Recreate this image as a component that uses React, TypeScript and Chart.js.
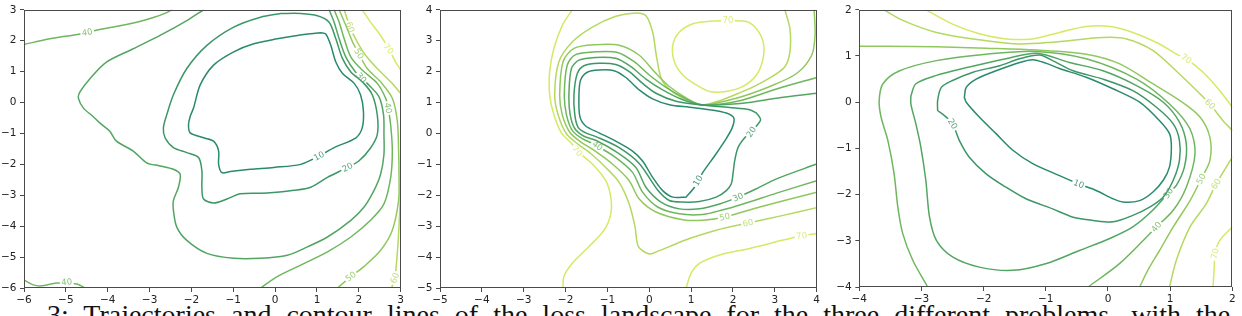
import React, { useEffect, useRef } from "react";
import { Chart, registerables } from "chart.js";

Chart.register(...registerables);

type Pt = [number, number];
type Lab = { t: string; x: number; y: number; r: number; lv: number };

// ---------- contour levels ----------
const levels = [10, 20, 30, 40, 50, 60, 70];
const levelColors = ["#2a8a6d", "#3c9767", "#53a662", "#6fb75e", "#91c85e", "#b4d960", "#d6e964"];

// ---------- panel 1 (x -6..3, y -6..3) ----------
const p1_10: Pt[] = [[1.09,2.26],[1.21,2.22],[1.33,1.85],[1.45,1.31],[1.61,0.94],[1.89,0.62],[2.04,0.25],[2.11,-0.29],[2.08,-0.82],[1.93,-1.14],[1.41,-1.46],[1.05,-1.73],[0.61,-2.0],[-0.03,-2.10],[-0.59,-2.16],[-1.07,-2.23],[-1.27,-2.27],[-1.35,-2.0],[-1.35,-1.57],[-1.47,-1.25],[-1.71,-1.14],[-2.03,-0.98],[-2.07,-0.72],[-2.03,-0.45],[-1.95,-0.18],[-1.79,0.57],[-1.47,1.21],[-0.99,1.64],[-0.51,1.90],[0.05,2.06],[0.53,2.17],[1.09,2.26]];
const p1_20: Pt[] = [[0.13,2.88],[0.61,2.88],[1.01,2.81],[1.29,2.60],[1.45,2.06],[1.61,1.42],[1.81,0.99],[2.12,0.62],[2.32,0.25],[2.44,-0.40],[2.44,-1.04],[2.28,-1.47],[2.0,-1.89],[1.73,-2.10],[1.25,-2.42],[0.85,-2.74],[0.45,-2.84],[-0.19,-2.93],[-0.83,-2.95],[-1.15,-3.12],[-1.47,-3.25],[-1.71,-3.12],[-1.75,-2.75],[-1.75,-2.21],[-1.83,-1.78],[-2.11,-1.62],[-2.43,-1.46],[-2.63,-1.14],[-2.67,-0.82],[-2.59,-0.40],[-2.43,0.25],[-2.11,1.10],[-1.63,1.85],[-0.99,2.44],[-0.35,2.76],[0.13,2.88]];
const p1_30: Pt[] = [[-1.71,3.0],[-2.11,2.65],[-2.75,2.17],[-3.39,1.74],[-4.03,1.31],[-4.42,0.78],[-4.66,0.35],[-4.70,0.14],[-4.58,-0.18],[-4.35,-0.45],[-4.19,-0.66],[-3.95,-0.93],[-3.79,-1.25],[-3.39,-1.57],[-3.07,-1.95],[-2.75,-2.05],[-2.43,-2.16],[-2.27,-2.32],[-2.31,-2.74],[-2.43,-3.17],[-2.43,-3.49],[-2.35,-4.03],[-2.11,-4.46],[-1.63,-4.88],[-0.99,-5.04],[-0.35,-5.04],[0.29,-4.94],[0.77,-4.67],[1.25,-4.35],[1.81,-3.81],[2.12,-3.39],[2.36,-2.85],[2.52,-2.32],[2.60,-1.68],[2.60,-1.04],[2.59,-0.40],[2.48,0.19],[2.20,0.62],[1.92,0.99],[1.69,1.47],[1.53,2.06],[1.41,2.60],[1.29,3.0]];
const p1_40a: Pt[] = [[-6.0,1.88],[-5.38,2.06],[-4.66,2.22],[-4.19,2.36],[-3.39,2.57],[-2.91,2.75],[-2.59,2.91],[-2.47,3.0]];
const p1_40b: Pt[] = [[-6.0,-5.74],[-5.78,-5.90],[-5.58,-5.93],[-5.22,-5.84],[-4.74,-5.87],[-4.54,-6.0]];
const p1_40c: Pt[] = [[1.41,3.0],[1.53,2.60],[1.65,2.06],[1.81,1.47],[2.08,1.05],[2.44,0.62],[2.64,0.14],[2.70,-0.18],[2.76,-0.72],[2.80,-1.57],[2.76,-2.43],[2.60,-3.28],[2.28,-3.81],[1.81,-4.35],[1.25,-4.83],[0.61,-5.26],[0.05,-5.63],[-0.35,-6.0]];
const p1_50: Pt[] = [[1.53,3.0],[1.69,2.49],[1.85,1.96],[2.0,1.58],[2.20,1.10],[2.52,0.67],[2.80,0.14],[2.92,-0.61],[2.95,-1.57],[2.96,-2.43],[2.95,-3.17],[2.80,-4.13],[2.52,-4.78],[2.12,-5.31],[1.81,-5.63],[1.49,-6.0]];
const p1_60a: Pt[] = [[1.65,3.0],[1.79,2.44],[1.96,1.96],[2.16,1.53],[2.44,1.10],[2.76,0.67],[3.0,0.30]];
const p1_60b: Pt[] = [[3.0,-2.75],[2.97,-3.71],[2.93,-4.67],[2.86,-5.68],[2.78,-6.0]];
const p1_70: Pt[] = [[2.08,3.0],[2.28,2.60],[2.52,2.17],[2.71,1.74],[2.88,1.31],[3.0,1.05]];
const p1Labels: Lab[] = [
  { t: "40", x: -4.49, y: 2.27, r: -9, lv: 40 },
  { t: "40", x: -4.98, y: -5.81, r: -5, lv: 40 },
  { t: "10", x: 1.05, y: -1.73, r: -28, lv: 10 },
  { t: "20", x: 1.73, y: -2.10, r: -28, lv: 20 },
  { t: "30", x: 2.06, y: 0.80, r: 50, lv: 30 },
  { t: "40", x: 2.70, y: -0.18, r: 80, lv: 40 },
  { t: "50", x: 2.0, y: 1.58, r: 58, lv: 50 },
  { t: "60", x: 1.79, y: 2.44, r: 70, lv: 60 },
  { t: "70", x: 2.71, y: 1.74, r: 52, lv: 70 },
  { t: "50", x: 1.81, y: -5.63, r: -38, lv: 50 },
  { t: "60", x: 2.86, y: -5.68, r: -70, lv: 60 },
];

// ---------- panel 2 (x -5..4, y -5..4) ----------
const p2_10: Pt[] = [[0.88,-2.06],[0.56,-2.06],[0.32,-1.85],[0.08,-1.42],[-0.16,-0.89],[-0.40,-0.57],[-0.80,-0.25],[-1.20,0.02],[-1.52,0.24],[-1.66,0.56],[-1.68,1.25],[-1.64,1.73],[-1.48,1.98],[-1.20,2.05],[-0.84,2.03],[-0.56,1.81],[-0.24,1.41],[0.08,1.12],[0.48,0.93],[0.96,0.85],[1.44,0.77],[1.84,0.66],[2.02,0.50],[1.98,0.18],[1.80,-0.25],[1.56,-0.73],[1.28,-1.26],[1.08,-1.74],[0.88,-2.06]];
const p2_20: Pt[] = [[2.56,0.66],[2.66,0.45],[2.56,0.24],[2.44,0.05],[2.28,-0.14],[2.12,-0.46],[2.04,-0.89],[2.0,-1.31],[1.96,-1.63],[1.84,-1.85],[1.60,-2.06],[1.20,-2.20],[0.80,-2.22],[0.48,-2.17],[0.20,-1.83],[-0.24,-0.97],[-0.72,-0.46],[-1.26,-0.11],[-1.52,0.02],[-1.70,0.20],[-1.78,0.61],[-1.80,1.25],[-1.72,1.94],[-1.56,2.19],[-1.20,2.27],[-0.80,2.23],[-0.48,2.0],[-0.16,1.62],[0.16,1.30],[0.64,1.04],[1.20,0.93],[1.92,0.84],[2.40,0.77],[2.56,0.66]];
const p2_30: Pt[] = [[4.0,1.30],[3.04,1.14],[2.24,0.98],[1.28,0.93],[0.80,1.09],[0.32,1.41],[-0.08,1.76],[-0.44,2.16],[-0.80,2.43],[-1.28,2.46],[-1.68,2.37],[-1.86,2.10],[-1.92,1.25],[-1.89,0.61],[-1.78,0.16],[-1.56,-0.09],[-1.28,-0.22],[-0.76,-0.62],[-0.32,-1.10],[-0.08,-1.74],[0.28,-2.22],[0.72,-2.44],[1.20,-2.44],[1.68,-2.28],[2.12,-2.06],[2.56,-1.79],[3.04,-1.47],[4.0,-0.99]];
const p2_40: Pt[] = [[4.0,1.81],[3.04,1.44],[2.16,1.06],[1.28,0.92],[0.88,1.12],[0.40,1.49],[0,1.89],[-0.36,2.32],[-0.76,2.62],[-1.28,2.64],[-1.76,2.55],[-1.96,2.21],[-2.03,1.25],[-1.98,0.61],[-1.84,0.10],[-1.60,-0.17],[-1.32,-0.35],[-0.80,-0.78],[-0.40,-1.26],[-0.16,-1.90],[0.20,-2.38],[0.72,-2.60],[1.28,-2.62],[1.76,-2.47],[2.24,-2.28],[3.04,-1.93],[4.0,-1.53]];
const p2_50: Pt[] = [[3.94,4.0],[3.96,3.17],[3.88,2.53],[3.52,1.94],[2.88,1.52],[2.08,1.14],[1.28,0.92],[0.92,1.12],[0.48,1.52],[0.12,2.0],[-0.24,2.53],[-0.72,2.85],[-1.28,2.87],[-1.80,2.75],[-2.06,2.32],[-2.14,1.25],[-2.08,0.61],[-1.90,0.04],[-1.64,-0.27],[-1.36,-0.51],[-0.88,-0.99],[-0.48,-1.53],[-0.24,-2.12],[0.16,-2.54],[0.80,-2.79],[1.28,-2.81],[1.80,-2.70],[2.64,-2.38],[4.0,-1.90]];
const p2_60: Pt[] = [[3.24,4.0],[3.36,3.39],[3.36,2.64],[3.24,2.16],[2.88,1.80],[2.24,1.36],[1.28,0.92],[0.72,1.20],[0.32,1.68],[0.18,2.43],[0.08,3.28],[-0.08,3.81],[-0.32,3.90],[-0.80,3.79],[-1.36,3.44],[-1.84,2.96],[-2.16,2.32],[-2.26,1.25],[-2.18,0.61],[-1.98,-0.01],[-1.68,-0.37],[-1.40,-0.65],[-1.04,-1.10],[-0.72,-1.58],[-0.48,-2.28],[-0.34,-3.02],[-0.26,-3.66],[0,-3.90],[0.24,-3.79],[0.48,-3.66],[0.96,-3.40],[1.60,-3.13],[2.36,-2.90],[3.20,-2.65],[4.0,-2.40]];
const p2_70a: Pt[] = [[-1.84,4.0],[-2.08,3.49],[-2.28,2.75],[-2.38,2.0],[-2.38,1.25],[-2.28,0.61],[-2.10,0.02],[-1.84,-0.35],[-1.72,-0.57],[-1.36,-0.99],[-1.04,-1.53],[-0.92,-2.06],[-0.92,-2.60],[-1.08,-3.13],[-1.44,-3.66],[-1.84,-4.20],[-2.04,-4.63],[-2.06,-5.0]];
const p2_70b: Pt[] = [[1.88,3.65],[2.32,3.62],[2.56,3.39],[2.72,2.96],[2.72,2.43],[2.56,1.89],[2.24,1.52],[1.84,1.36],[1.44,1.36],[1.12,1.57],[0.80,1.89],[0.60,2.32],[0.56,2.85],[0.72,3.28],[1.04,3.55],[1.44,3.63],[1.88,3.65]];
const p2_70c: Pt[] = [[0.88,-5.0],[1.0,-4.52],[1.20,-4.20],[1.68,-3.93],[2.40,-3.72],[3.20,-3.45],[3.64,-3.31],[4.0,-3.24]];
const p2Labels: Lab[] = [
  { t: "10", x: 1.16, y: -1.53, r: -60, lv: 10 },
  { t: "20", x: 2.44, y: 0.05, r: -55, lv: 20 },
  { t: "30", x: 2.12, y: -2.06, r: -22, lv: 30 },
  { t: "40", x: -1.24, y: -0.40, r: 35, lv: 40 },
  { t: "50", x: 1.80, y: -2.70, r: -12, lv: 50 },
  { t: "60", x: 2.36, y: -2.90, r: -12, lv: 60 },
  { t: "70", x: 1.88, y: 3.65, r: 0, lv: 70 },
  { t: "70", x: -1.72, y: -0.57, r: 52, lv: 70 },
  { t: "70", x: 3.64, y: -3.31, r: -6, lv: 70 },
];

// ---------- panel 3 (x -4..2, y -4..2) ----------
const p3_10: Pt[] = [[-2.31,0.11],[-2.28,0.32],[-2.12,0.50],[-1.80,0.68],[-1.42,0.86],[-1.21,0.92],[-0.99,0.84],[-0.78,0.73],[-0.35,0.54],[0.08,0.29],[0.51,0],[0.83,-0.40],[0.99,-0.68],[1.02,-0.97],[0.99,-1.40],[0.89,-1.69],[0.72,-1.95],[0.51,-2.13],[0.24,-2.16],[0.08,-2.09],[-0.19,-1.91],[-0.47,-1.77],[-0.78,-1.59],[-1.21,-1.33],[-1.53,-1.04],[-1.80,-0.68],[-2.07,-0.32],[-2.28,0],[-2.31,0.11]];
const p3_20: Pt[] = [[-2.74,-0.18],[-2.74,0.04],[-2.68,0.32],[-2.50,0.47],[-2.17,0.65],[-1.74,0.79],[-1.42,0.94],[-1.10,1.02],[-0.89,0.90],[-0.56,0.68],[-0.08,0.50],[0.40,0.25],[0.78,-0.11],[1.05,-0.47],[1.15,-0.83],[1.15,-1.26],[1.05,-1.69],[0.89,-2.05],[0.67,-2.27],[0.40,-2.45],[0.08,-2.59],[-0.24,-2.56],[-0.56,-2.49],[-0.89,-2.31],[-1.32,-2.09],[-1.64,-1.84],[-1.96,-1.55],[-2.23,-1.19],[-2.39,-0.83],[-2.50,-0.47],[-2.63,-0.29],[-2.74,-0.18]];
const p3_30: Pt[] = [[-3.17,0.14],[-3.09,0.40],[-2.76,0.58],[-2.23,0.76],[-1.64,0.94],[-1.15,1.06],[-0.62,0.86],[-0.08,0.68],[0.46,0.36],[0.89,0],[1.15,-0.43],[1.26,-0.90],[1.23,-1.40],[1.10,-1.80],[0.97,-1.97],[0.72,-2.34],[0.40,-2.70],[0.03,-2.95],[-0.46,-3.21],[-0.99,-3.49],[-1.53,-3.64],[-2.07,-3.57],[-2.50,-3.35],[-2.76,-2.99],[-2.87,-2.49],[-2.93,-1.69],[-3.01,-0.97],[-3.09,-0.47],[-3.17,-0.04],[-3.17,0.14]];
const p3_40: Pt[] = [[-2.90,-4.0],[-3.14,-3.42],[-3.30,-2.85],[-3.38,-2.27],[-3.44,-1.55],[-3.54,-0.83],[-3.65,-0.32],[-3.68,0.04],[-3.62,0.40],[-3.35,0.68],[-2.76,0.90],[-1.96,1.04],[-1.15,1.10],[-0.35,0.94],[0.46,0.50],[0.99,-0.04],[1.32,-0.58],[1.40,-1.12],[1.26,-1.84],[1.05,-2.34],[0.78,-2.70],[0.19,-3.49],[-0.32,-4.0]];
const p3_50: Pt[] = [[-4.0,1.21],[-3.57,1.21],[-2.76,1.20],[-1.96,1.17],[-1.15,1.13],[-0.35,1.04],[0.19,0.83],[0.72,0.40],[1.15,0.04],[1.48,-0.32],[1.64,-0.76],[1.64,-1.26],[1.50,-1.66],[1.32,-2.13],[1.05,-2.70],[0.83,-3.21],[0.64,-3.64],[0.51,-4.0]];
const p3_60a: Pt[] = [[-3.60,2.0],[-3.30,1.77],[-2.76,1.51],[-1.96,1.33],[-1.42,1.26],[-0.89,1.30],[-0.08,1.40],[0.30,1.37],[0.72,1.12],[1.15,0.61],[1.48,0.18],[1.64,-0.04],[1.85,-0.40],[2.0,-0.61]];
const p3_60b: Pt[] = [[0.99,-4.0],[1.10,-3.42],[1.32,-2.70],[1.58,-2.20],[1.74,-1.77],[2.0,-1.19]];
const p3_70a: Pt[] = [[-2.93,2.0],[-2.50,1.69],[-2.07,1.48],[-1.64,1.37],[-1.21,1.37],[-0.78,1.51],[-0.35,1.64],[0.03,1.64],[0.40,1.51],[0.83,1.26],[1.10,1.04],[1.26,0.94],[1.53,0.65],[1.80,0.25],[2.0,-0.11]];
const p3_70b: Pt[] = [[1.69,-4.0],[1.71,-3.57],[1.72,-3.28],[1.80,-2.99],[2.0,-2.70]];
const p3Labels: Lab[] = [
  { t: "10", x: -0.47, y: -1.77, r: 22, lv: 10 },
  { t: "20", x: -2.50, y: -0.47, r: 58, lv: 20 },
  { t: "30", x: 0.97, y: -1.97, r: -55, lv: 30 },
  { t: "40", x: 0.78, y: -2.70, r: -50, lv: 40 },
  { t: "50", x: 1.50, y: -1.66, r: -62, lv: 50 },
  { t: "60", x: 1.74, y: -1.77, r: -58, lv: 60 },
  { t: "70", x: 1.72, y: -3.28, r: -78, lv: 70 },
  { t: "60", x: 1.64, y: -0.04, r: 45, lv: 60 },
  { t: "70", x: 1.26, y: 0.94, r: 35, lv: 70 },
];

const captionText =
  "3: Trajectories and contour lines of the loss landscape for the three different problems, with the level sets shown for different values of the function";

// ---------- panel definitions ----------
type Line = { lv: number; pts: Pt[] };
type PanelCfg = {
  left: number; width: number;
  xMin: number; xMax: number; yMin: number; yMax: number;
  yW: number; padR: number; padT: number; xH: number;
  lines: Line[]; labels: Lab[];
};

const panels: PanelCfg[] = [
  {
    left: 0, width: 414, xMin: -6, xMax: 3, yMin: -6, yMax: 3,
    yW: 24, padR: 13.3, padT: 7.3, xH: 28,
    lines: [
      { lv: 10, pts: p1_10 }, { lv: 20, pts: p1_20 }, { lv: 30, pts: p1_30 },
      { lv: 40, pts: p1_40a }, { lv: 40, pts: p1_40b }, { lv: 40, pts: p1_40c },
      { lv: 50, pts: p1_50 }, { lv: 60, pts: p1_60a }, { lv: 60, pts: p1_60b }, { lv: 70, pts: p1_70 },
    ],
    labels: p1Labels,
  },
  {
    left: 414, width: 414, xMin: -5, xMax: 4, yMin: -5, yMax: 4,
    yW: 26, padR: 11.3, padT: 7.3, xH: 28,
    lines: [
      { lv: 10, pts: p2_10 }, { lv: 20, pts: p2_20 }, { lv: 30, pts: p2_30 }, { lv: 40, pts: p2_40 },
      { lv: 50, pts: p2_50 }, { lv: 60, pts: p2_60 },
      { lv: 70, pts: p2_70a }, { lv: 70, pts: p2_70b }, { lv: 70, pts: p2_70c },
    ],
    labels: p2Labels,
  },
  {
    left: 828, width: 414, xMin: -4, xMax: 2, yMin: -4, yMax: 2,
    yW: 31.3, padR: 9.7, padT: 9, xH: 29,
    lines: [
      { lv: 10, pts: p3_10 }, { lv: 20, pts: p3_20 }, { lv: 30, pts: p3_30 }, { lv: 40, pts: p3_40 },
      { lv: 50, pts: p3_50 }, { lv: 60, pts: p3_60a }, { lv: 60, pts: p3_60b },
      { lv: 70, pts: p3_70a }, { lv: 70, pts: p3_70b },
    ],
    labels: p3Labels,
  },
];

const colorOf = (lv: number) => levelColors[levels.indexOf(lv)];
const fmt = (v: number | string) => {
  const n = Number(v);
  return (n < 0 ? "\u2212" : "") + String(Math.abs(n));
};
const LABEL_FONT = '8.5px "DejaVu Sans"';
const TICK_FONT = { family: '"DejaVu Sans"', size: 10.5 };

function labelRect(ctx: CanvasRenderingContext2D, chart: any, lb: Lab) {
  ctx.font = LABEL_FONT;
  const w = ctx.measureText(lb.t).width + 3;
  const h = 7;
  const px = chart.scales.x.getPixelForValue(lb.x);
  const py = chart.scales.y.getPixelForValue(lb.y);
  const a = (lb.r * Math.PI) / 180;
  const c = Math.cos(a), s = Math.sin(a);
  const corners = [[-w / 2, -h / 2], [w / 2, -h / 2], [w / 2, h / 2], [-w / 2, h / 2]].map(
    ([dx, dy]) => [px + dx * c - dy * s, py + dx * s + dy * c]
  );
  return { px, py, a, corners };
}

function ContourPanel({ cfg }: { cfg: PanelCfg }) {
  const ref = useRef<HTMLCanvasElement>(null);
  useEffect(() => {
    const canvas = ref.current!;
    const decor = {
      id: "contourDecor",
      beforeDatasetDraw(chart: any, args: any) {
        const ds = chart.data.datasets[args.index];
        const own = cfg.labels.filter((l) => l.lv === ds.level);
        const ctx: CanvasRenderingContext2D = chart.ctx;
        ctx.save();
        ctx.beginPath();
        ctx.rect(0, 0, chart.width, chart.height);
        for (const lb of own) {
          const { corners } = labelRect(ctx, chart, lb);
          ctx.moveTo(corners[0][0], corners[0][1]);
          for (let i = 1; i < 4; i++) ctx.lineTo(corners[i][0], corners[i][1]);
          ctx.closePath();
        }
        ctx.clip("evenodd");
      },
      afterDatasetDraw(chart: any) {
        chart.ctx.restore();
      },
      afterDatasetsDraw(chart: any) {
        const ctx: CanvasRenderingContext2D = chart.ctx;
        for (const lb of cfg.labels) {
          const { px, py, a } = labelRect(ctx, chart, lb);
          ctx.save();
          ctx.translate(px, py);
          ctx.rotate(a);
          ctx.font = LABEL_FONT;
          ctx.fillStyle = colorOf(lb.lv);
          ctx.globalAlpha = 0.85;
          ctx.textAlign = "center";
          ctx.textBaseline = "middle";
          ctx.fillText(lb.t, 0, 0.5);
          ctx.restore();
        }
      },
      afterDraw(chart: any) {
        const { ctx, chartArea } = chart;
        ctx.save();
        ctx.strokeStyle = "#4a4a4a";
        ctx.lineWidth = 1;
        const l = Math.round(chartArea.left) + 0.5;
        const t = Math.round(chartArea.top) + 0.5;
        const r = Math.round(chartArea.right) - 0.5;
        const b = Math.round(chartArea.bottom) - 0.5;
        ctx.strokeRect(l, t, r - l, b - t);
        ctx.restore();
      },
    };
    const chart = new Chart(canvas, {
      type: "scatter",
      data: {
        datasets: cfg.lines.map((ln) => ({
          level: ln.lv,
          data: ln.pts.map(([x, y]) => ({ x, y })),
          showLine: true,
          borderColor: colorOf(ln.lv),
          backgroundColor: colorOf(ln.lv),
          borderWidth: 1.5,
          pointRadius: 0,
          pointHoverRadius: 0,
          tension: 0.3,
          fill: false,
          borderJoinStyle: "round",
          borderCapStyle: "round",
        })) as any,
      },
      options: {
        animation: false,
        responsive: false,
        maintainAspectRatio: false,
        events: [],
        layout: { padding: { left: 0, right: cfg.padR, top: cfg.padT, bottom: 0 } },
        plugins: { legend: { display: false }, tooltip: { enabled: false } },
        scales: {
          x: {
            type: "linear",
            position: "bottom",
            min: cfg.xMin,
            max: cfg.xMax,
            ticks: { stepSize: 1, color: "#222", font: TICK_FONT, padding: 2, maxRotation: 0, autoSkip: false, callback: fmt },
            grid: { display: true, drawOnChartArea: false, drawTicks: true, tickLength: 4, color: "#4a4a4a", lineWidth: 1 },
            border: { display: false },
            afterFit: (s: any) => { s.height = cfg.xH; },
          },
          y: {
            type: "linear",
            position: "left",
            min: cfg.yMin,
            max: cfg.yMax,
            ticks: { stepSize: 1, color: "#222", font: TICK_FONT, padding: 3.5, autoSkip: false, callback: fmt },
            grid: { display: true, drawOnChartArea: false, drawTicks: true, tickLength: 4, color: "#4a4a4a", lineWidth: 1 },
            border: { display: false },
            afterFit: (s: any) => { s.width = cfg.yW; },
          },
        },
      } as any,
      plugins: [decor],
    });
    return () => chart.destroy();
  }, [cfg]);
  return (
    <div style={{ position: "absolute", left: cfg.left, top: 0, width: cfg.width, height: 316 }}>
      <canvas ref={ref} width={cfg.width} height={316} style={{ width: cfg.width, height: 316, display: "block" }} />
    </div>
  );
}

export default function App() {
  return (
    <div style={{ position: "absolute", left: 0, top: 0, width: 1242, height: 316, overflow: "hidden", background: "#fff" }}>
      <div
        style={{
          position: "absolute", left: 47, top: 301, whiteSpace: "nowrap",
          fontFamily: '"Liberation Serif", serif', fontSize: 28, lineHeight: "28px", color: "#111", wordSpacing: 8,
        }}
      >
        {captionText}
      </div>
      {panels.map((p, i) => (
        <ContourPanel key={i} cfg={p} />
      ))}
    </div>
  );
}
